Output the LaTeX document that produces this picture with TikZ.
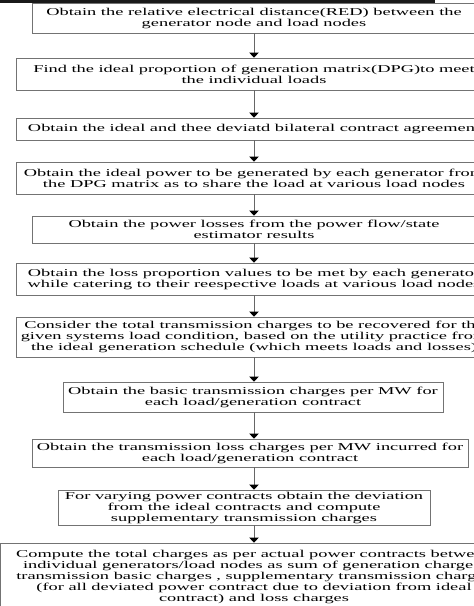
\documentclass[tikz,border=0pt]{standalone}
\usepackage{fontspec}
\setmainfont{Liberation Serif}[FakeStretch=1.75]
\usetikzlibrary{arrows.meta}
\tikzset{
  box/.style={draw=black!55, line width=0.8pt, inner sep=0pt, align=center,
    font=\fontsize{10.5}{11}\selectfont, text=black},
  arr/.style={draw=black!60, line width=0.8pt, -{Triangle[width=9.5pt,length=5pt,color=black]}}
}
\begin{document}
\begin{tikzpicture}[x=1pt,y=-1pt]
\useasboundingbox (0,0) rectangle (474,606);
\clip (0,0) rectangle (474,606);
\fill[black!90] (0,0) rectangle (435,3);
\coordinate (ax) at (254,0);
\node[box, minimum width=444, minimum height=30] (b1) at (254,18)
  {Obtain the relative electrical distance(RED) between the\\generator node and load nodes};
\node[box, minimum width=476, minimum height=32] (b2) at (254,74)
  {Find the ideal proportion of generation matrix(DPG)to meet\\the individual loads};
\node[box, minimum width=476, minimum height=22] (b3) at (254,129)
  {Obtain the ideal and thee deviatd bilateral contract agreement};
\node[box, minimum width=476, minimum height=32] (b4) at (254,178)
  {Obtain the ideal power to be generated by each generator from\\the DPG matrix as to share the load at various load nodes};
\node[box, minimum width=444, minimum height=27] (b5) at (254,229.5)
  {Obtain the power losses from the power flow/state\\estimator results};
\node[box, minimum width=476, minimum height=32] (b6) at (254,279)
  {Obtain the loss proportion values to be met by each generator\\while catering to their reespective loads at various load nodes};
\node[box, minimum width=476, minimum height=40] (b7) at (254,337)
  {Consider the total transmission charges to be recovered for the\\given systems load condition, based on the utility practice from\\the ideal generation schedule (which meets loads and losses)};
\node[box, minimum width=380, minimum height=30] (b8) at (253,397)
  {Obtain the basic transmission charges per MW for\\each load/generation contract};
\node[box, minimum width=436, minimum height=28] (b9) at (250,453)
  {Obtain the transmission loss charges per MW incurred for\\each load/generation contract};
\node[box, minimum width=372, minimum height=35] (b10) at (244,507.5)
  {For varying power contracts obtain the deviation\\from the ideal contracts and compute\\supplementary transmission charges};
\node[box, minimum width=508, minimum height=68] (b11) at (254,577)
  {Compute the total charges as per actual power contracts between\\individual generators/load nodes as sum of generation charges,\\transmission basic charges , supplementary transmission charges\\(for all deviated power contract due to deviation from ideal\\contract) and loss charges};
\foreach \a/\b in {b1/b2,b2/b3,b3/b4,b4/b5,b5/b6,b6/b7,b7/b8,b8/b9,b9/b10,b10/b11}
  \draw[arr] (\a.south -| ax) -- (\b.north -| ax);
\end{tikzpicture}
\end{document}
